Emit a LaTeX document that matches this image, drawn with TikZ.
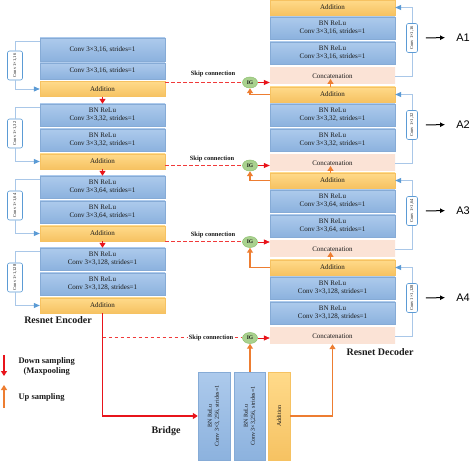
\documentclass[tikz,border=0pt]{standalone}
\usepackage{fontspec}
\setmainfont{Liberation Serif}
\newfontfamily\outfont{Liberation Sans}
\usepackage{graphicx}
\usetikzlibrary{arrows.meta,calc,shapes.geometric}
\definecolor{convtop}{HTML}{ADCAEC}
\definecolor{convbot}{HTML}{8CB2DE}
\definecolor{convline}{HTML}{86ABD6}
\definecolor{addtop}{HTML}{FFDA8A}
\definecolor{addbot}{HTML}{F6C262}
\definecolor{catfill}{HTML}{FBE3D6}
\definecolor{gatefill}{HTML}{A9D18E}
\definecolor{gateline}{HTML}{8CBF6E}
\definecolor{downred}{HTML}{E8141B}
\definecolor{skipred}{HTML}{F03A3A}
\definecolor{uporange}{HTML}{ED7D31}
\definecolor{shortline}{HTML}{A9C7E8}
\definecolor{shorttip}{HTML}{5B9BD5}
\definecolor{ink}{HTML}{1A1A1A}
\tikzset{
  conv/.style={draw=convline, line width=0.4pt, top color=convtop, bottom color=convbot,
               minimum width=125pt, minimum height=22pt, inner sep=0pt, align=center,
               font=\fontsize{7}{8}\selectfont, text=ink},
  addbox/.style={conv, draw=addbot, top color=addtop, bottom color=addbot,
                 minimum height=15pt},
  catbox/.style={conv, draw=none, top color=catfill, bottom color=catfill,
                 minimum height=16pt},
  % bridge blocks stand upright, their text turned with \rotatebox
  upright/.style={conv, minimum width=31pt, minimum height=88pt,
                  font=\fontsize{6}{7}\selectfont},
  % the 1x1 shortcut convolutions, beside each residual block
  shortbox/.style={draw=shorttip, line width=0.6pt, rounded corners=2pt, fill=white,
                   minimum width=15pt, minimum height=29pt, inner sep=0pt,
                   font=\fontsize{4.5}{5}\selectfont, text=ink},
  shortcut/.style={draw=shortline, line width=0.8pt},
  shorttip/.style={shortcut, -{Triangle[length=6pt,width=5pt,color=shorttip]}},
  gate/.style={ellipse, draw=gateline, fill=gatefill, line width=0.5pt,
               minimum width=15pt, minimum height=11pt, inner sep=0pt,
               font=\fontsize{5.5}{6}\bfseries, text=ink},
  skip/.style={draw=skipred, line width=1pt, dash pattern=on 3.5pt off 2.5pt},
  skiptip/.style={draw=downred, line width=0.7pt, -{Triangle[length=6pt,width=5pt]}},
  skiptext/.style={font=\fontsize{6.5}{7}\bfseries, text=ink, inner sep=1pt},
  downflow/.style={draw=downred, line width=1.5pt, -{Triangle[length=5pt,width=6pt]}},
  upflow/.style={draw=uporange, line width=1.5pt, -{Triangle[length=5pt,width=6pt]}},
  outarrow/.style={draw=black, line width=1pt, -{Latex[length=5pt,width=5pt]}},
  outlabel/.style={font=\outfont\fontsize{11}{12}\selectfont, inner sep=1pt},
  title/.style={font=\fontsize{10}{11}\bfseries, text=ink},
  legend/.style={font=\fontsize{8.5}{10}\bfseries, text=ink, align=center},
}

\begin{document}
\begin{tikzpicture}[x=1pt,y=-1pt]
  \useasboundingbox (0,0) rectangle (474,462);
  \def\ex{102.5}  % centre of the encoder column
  \def\dx{332.5}  % centre of the decoder column

  % --- encoder ---------------------------------------------------------------
  \node[conv, minimum height=23pt] (ea1) at (\ex,49.5) {Conv 3×3,16, strides=1};
  \node[conv, minimum height=16pt] (eb1) at (\ex,71) {Conv 3×3,16, strides=1};
  \node[addbox] (eadd1) at (\ex,89) {Addition};
  \foreach \c/\t [count=\i from 2] in {32/104,64/176,128/248} {
    \node[conv] (ea\i) at (\ex,\t+11) {BN ReLu\\Conv 3×3,\c, strides=1};
    \node[conv] (eb\i) at (\ex,\t+36) {BN ReLu\\Conv 3×3,\c, strides=1};
    \node[addbox] (eadd\i) at (\ex,\t+57.5) {Addition};
  }
  \foreach \c/\t [count=\i] in {16/36,32/104,64/176,128/248} {
    \node[shortbox] (es\i) at (15,\t+29.5) {\rotatebox{90}{Conv 1×1,\c}};
    \draw[shortcut] ([yshift=-4pt]ea\i.north west) -| (es\i.north);
    \draw[shorttip] (es\i.south) |- (eadd\i.west);
  }
  \foreach \i [evaluate=\i as \j using int(\i+1)] in {1,2,3}
    \draw[downflow] (eadd\i.south) -- (ea\j.north);

  % --- decoder ---------------------------------------------------------------
  \foreach \c/\t [count=\i] in {16/0,32/87,64/173,128/260} {
    \node[addbox] (dadd\i) at (\dx,\t+7.5) {Addition};
    \node[conv] (da\i) at (\dx,\t+28) {BN ReLu\\Conv 3×3,\c, strides=1};
    \node[conv] (db\i) at (\dx,\t+53) {BN ReLu\\Conv 3×3,\c, strides=1};
    \node[catbox] (dcat\i) at (\dx,\t+76) {Concatenation};
    \node[shortbox, minimum width=11pt] (ds\i) at (412,\t+38) {\rotatebox{90}{Conv 1×1,\c}};
    \draw[shortcut] (dcat\i.east) -| (ds\i.south);
    \draw[shorttip] (ds\i.north) |- (dadd\i.east);
    \node[outlabel] (a\i) at (463,\t+37.5) {A\i};
    \draw[outarrow, shorten <=8pt, shorten >=10pt] (ds\i.east) -- (a\i.west);
  }

  % --- bridge ----------------------------------------------------------------
  \node[upright, minimum width=32pt] (b1) at (214,416)
    {\rotatebox{90}{\begin{tabular}{@{}c@{}}BN ReLu\\Conv 3×3, 256, strides=1\end{tabular}}};
  \node[upright] (b2) at (250,416)
    {\rotatebox{90}{\begin{tabular}{@{}c@{}}BN ReLu\\Conv 3×3,256, strides=1\end{tabular}}};
  \node[upright, draw=addbot, top color=addtop, bottom color=addbot,
        minimum width=22pt] (b3) at (279,416) {\rotatebox{90}{Addition}};
  \draw[downflow] (eadd4.south) |- (b1.west);

  % --- skip connections through the gates -----------------------------------
  \node[gate] (ig1) at (250,82.5) {IG};
  \node[gate] (ig2) at (250,165.5) {IG};
  \node[gate] (ig3) at (250,242) {IG};
  \node[gate] (ig4) at (250,338) {IG};
  \foreach \i in {1,2,3}
    \draw[skip] (eadd\i.east |- ig\i) -- (ig\i.west);
  \draw[skip] (eadd4.south |- ig4) -- (ig4.west);
  \foreach \i in {1,...,4}
    \draw[skiptip] (ig\i.east) -- (dcat\i.west |- ig\i);
  \node[skiptext] (sk1) at (213,74) {Skip connection};
  \node[skiptext] (sk2) at (212,159) {Skip connection};
  \node[skiptext] (sk3) at (213,235) {Skip connection};
  \node[skiptext, fill=white] (sk4) at (211,338) {Skip connection};

  % up sampling: each addition feeds its gate and the concatenation above
  \foreach \i [evaluate=\i as \j using int(\i+1)] in {1,2,3} {
    \draw[upflow] (dadd\j.west) -| (ig\i.south);
    \draw[upflow] ([xshift=-2pt]dadd\j.north) -- ([xshift=-2pt,yshift=-3pt]dcat\i.center);
  }
  \draw[upflow] (b2.north) -- (ig4.south);
  \draw[upflow] (b3.east) -| (dcat4.south);

  % --- titles and legend -----------------------------------------------------
  \node[title] (enctitle) at (58,320) {Resnet Encoder};
  \node[title] (dectitle) at (380,352) {Resnet Decoder};
  \node[title] (bridgetitle) at (166,431) {Bridge};
  \coordinate (dn0) at (4,355);
  \coordinate (dn1) at (4,376);
  \coordinate (up0) at (4,408);
  \coordinate (up1) at (4,385);
  \draw[downflow] (dn0) -- (dn1);
  \draw[upflow] (up0) -- (up1);
  \node[legend, anchor=west] (dnlabel) at (15,366) {Down sampling\\(Maxpooling};
  \node[legend, anchor=west] (uplabel) at (15,397) {Up sampling};

\end{tikzpicture}
\end{document}
